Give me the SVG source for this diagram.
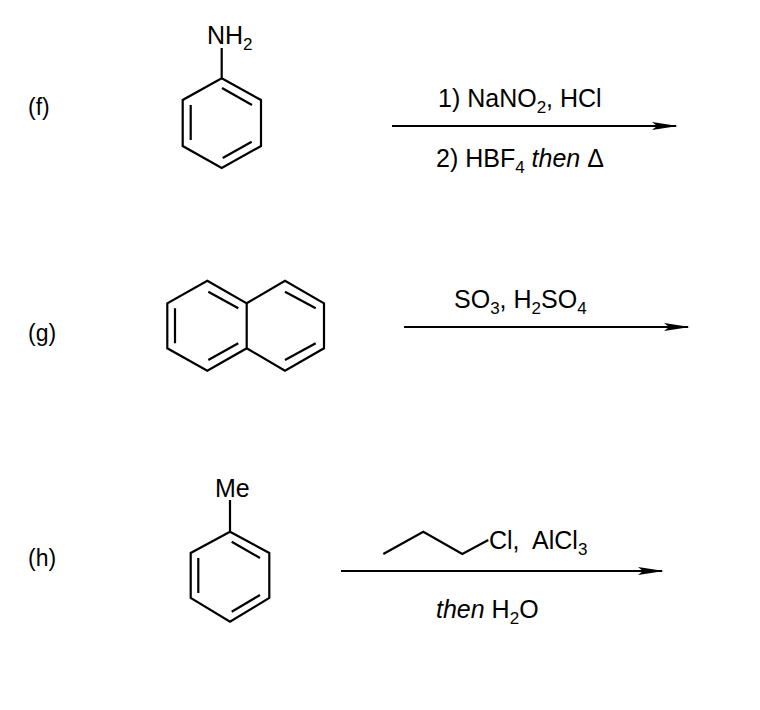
<svg xmlns="http://www.w3.org/2000/svg" width="760" height="710" viewBox="0 0 760 710">
<style>
text{font-family:"Liberation Sans",Arial,sans-serif;font-size:25px;fill:#000}
.l{font-size:23px}
.b{stroke:#000;stroke-width:2.2;fill:none;stroke-linejoin:miter}
.s{font-size:17px}
</style>
<defs><marker id="ah" markerWidth="26" markerHeight="10" refX="24" refY="5" orient="auto" markerUnits="userSpaceOnUse"><path d="M0,1 L26,5 L0,9 L5,5 Z" fill="#000"/></marker></defs>
<rect width="760" height="710" fill="#fff"/>
<g id="label-f"><text class="l" x="28" y="115">(f)</text></g>
<g id="label-g"><text class="l" x="28" y="341">(g)</text></g>
<g id="label-h"><text class="l" x="28" y="566">(h)</text></g>
<g id="aniline">
<path class="b" d="M221.7,48 V78.3 M221.7,78.3 L261,100 V146 L221.7,168 L182.7,146 V100 Z M222,88 L252,105 M190.7,105 V140 M222.7,158 L251.7,141.7"/>
<text x="207" y="44">NH<tspan class="s" dy="6">2</tspan></text>
</g>
<g id="naphthalene">
<path class="b" d="M207.3,280.7 L246.7,303.3 V348.3 L207.3,370.7 L167.3,348.3 V303.3 Z M246.7,303.3 L285,280.7 L324,303.3 V348.3 L285,370.7 L246.7,348.3 M208.3,291.7 L238.3,308.3 M175,308.3 V343.3 M208.3,360 L238.3,343.3 M285,291.7 L315.7,308.3 M285,360 L315.7,343.3"/>
</g>
<g id="toluene">
<path class="b" d="M230,500 V531.7 M230,531.7 L269.3,553 V598 L230,621.7 L190.7,598 V553 Z M231.7,541.7 L260,558 M198.3,558 V593 M231.7,611.7 L260,595"/>
<text x="215" y="497">Me</text>
</g>
<g id="connectors">
<line class="b" x1="392" y1="126" x2="676" y2="126" marker-end="url(#ah)"/>
<line class="b" x1="404" y1="327" x2="688" y2="327" marker-end="url(#ah)"/>
<line class="b" x1="341" y1="571" x2="662" y2="571" marker-end="url(#ah)"/>
</g>
<g id="reagents-f">
<text x="438" y="107">1) NaNO<tspan class="s" dy="6">2</tspan><tspan dy="-6">, HCl</tspan></text>
<text x="436" y="167">2) HBF<tspan class="s" dy="6">4</tspan><tspan dy="-6"> </tspan><tspan font-style="italic">then</tspan> Δ</text>
</g>
<g id="reagents-g">
<text x="454" y="308">SO<tspan class="s" dy="6">3</tspan><tspan dy="-6">, H</tspan><tspan class="s" dy="6">2</tspan><tspan dy="-6">SO</tspan><tspan class="s" dy="6">4</tspan></text>
</g>
<g id="reagents-h">
<path class="b" d="M383.3,554 L423.3,531.7 L462.3,554 L488.3,540"/>
<text x="489" y="549" xml:space="preserve">Cl,  AlCl<tspan class="s" dy="6">3</tspan></text>
<text x="436" y="618"><tspan font-style="italic">then</tspan> H<tspan class="s" dy="6">2</tspan><tspan dy="-6">O</tspan></text>
</g>
</svg>
